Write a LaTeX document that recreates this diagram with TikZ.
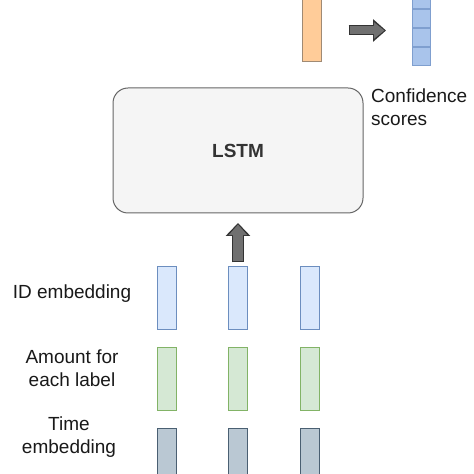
\documentclass[tikz,border=0pt]{standalone}
\usepackage{fontspec}
\setmainfont{Liberation Sans}
\usetikzlibrary{positioning, arrows.meta}

\definecolor{idfill}{HTML}{DAE8FC}
\definecolor{iddraw}{HTML}{6C8EBF}
\definecolor{amtfill}{HTML}{D5E8D4}
\definecolor{amtdraw}{HTML}{82B366}
\definecolor{timefill}{HTML}{BAC8D3}
\definecolor{timedraw}{HTML}{4A5F72}
\definecolor{outfill}{HTML}{FFCC99}
\definecolor{outdraw}{HTML}{A08A74}
\definecolor{conffill}{HTML}{A9C4EB}
\definecolor{confdraw}{HTML}{7F9FCF}
\definecolor{lstmfill}{HTML}{F5F5F5}
\definecolor{lstmdraw}{HTML}{666666}
\definecolor{arrowfill}{HTML}{707070}
\definecolor{arrowdark}{HTML}{333333}

\begin{document}
\begin{tikzpicture}[x=1pt, y=1pt, node distance=17pt and 51.5pt,
    every node/.style={font=\fontsize{19}{23}\selectfont},
    bar/.style={draw, line width=1pt, minimum width=19pt, minimum height=63pt, inner sep=0pt},
    idbar/.style={bar, fill=idfill, draw=iddraw},
    amtbar/.style={bar, fill=amtfill, draw=amtdraw},
    timebar/.style={bar, fill=timefill, draw=timedraw},
    cell/.style={draw=confdraw, fill=conffill, line width=1pt, minimum width=18pt, minimum height=18pt, inner sep=0pt},
    lbl/.style={align=center, text=black!90},
    arrowedge/.style={line width=#1, draw=arrowdark, -{Triangle[length=13pt, width=#1+12pt]}},
    arrowcore/.style={line width=#1, draw=arrowfill, -{Triangle[length=10.5pt, width=#1+8pt]}, shorten >=1.6pt}]
    \useasboundingbox (0,0) rectangle (474,474);

    % input vectors
    \node[idbar]                  (id1)   at (166.5,175.5) {};
    \node[idbar, right=of id1]    (id2)   {};
    \node[idbar, right=of id2]    (id3)   {};
    \node[amtbar, below=of id1]   (amt1)  {};
    \node[amtbar, below=of id2]   (amt2)  {};
    \node[amtbar, below=of id3]   (amt3)  {};
    \node[timebar, below=of amt1] (time1) {};
    \node[timebar, below=of amt2] (time2) {};
    \node[timebar, below=of amt3] (time3) {};

    \node[lbl] (idlbl)   at (72,180) {ID embedding};
    \node[lbl] (amtlbl)  at (72,106) {Amount for\\each label};
    \node[lbl] (timelbl) at (69,37)  {Time\\embedding};

    % model
    \node[draw=lstmdraw, fill=lstmfill, line width=1pt, rounded corners=15pt,
          minimum width=250pt, minimum height=125pt, text=black!80] (lstm) at (238,323.5) {\textbf{LSTM}};

    % output
    \node[bar, fill=outfill, draw=outdraw] (out) at (311.5,443.5) {};
    \node[cell] (c1) at (421,417) {};
    \node[cell, above=0pt of c1] (c2) {};
    \node[cell, above=0pt of c2] (c3) {};
    \node[cell, above=0pt of c3] (c4) {};
    \node[lbl, align=left, anchor=west, inner sep=0pt] (conflbl) at (371,366.5) {Confidence\\scores};

    \draw[arrowedge=12pt, shorten <=4pt, shorten >=9.5pt] (id2.north) -- (lstm.south);
    \draw[arrowcore=10pt, shorten <=5pt, shorten >=11.1pt] (id2.north) -- (lstm.south);
    \draw[arrowedge=10pt, shorten <=27pt, shorten >=25.5pt] (out.east) -- (out.east -| c2.west);
    \draw[arrowcore=8pt, shorten <=28pt, shorten >=27.1pt] (out.east) -- (out.east -| c2.west);
\end{tikzpicture}
\end{document}
